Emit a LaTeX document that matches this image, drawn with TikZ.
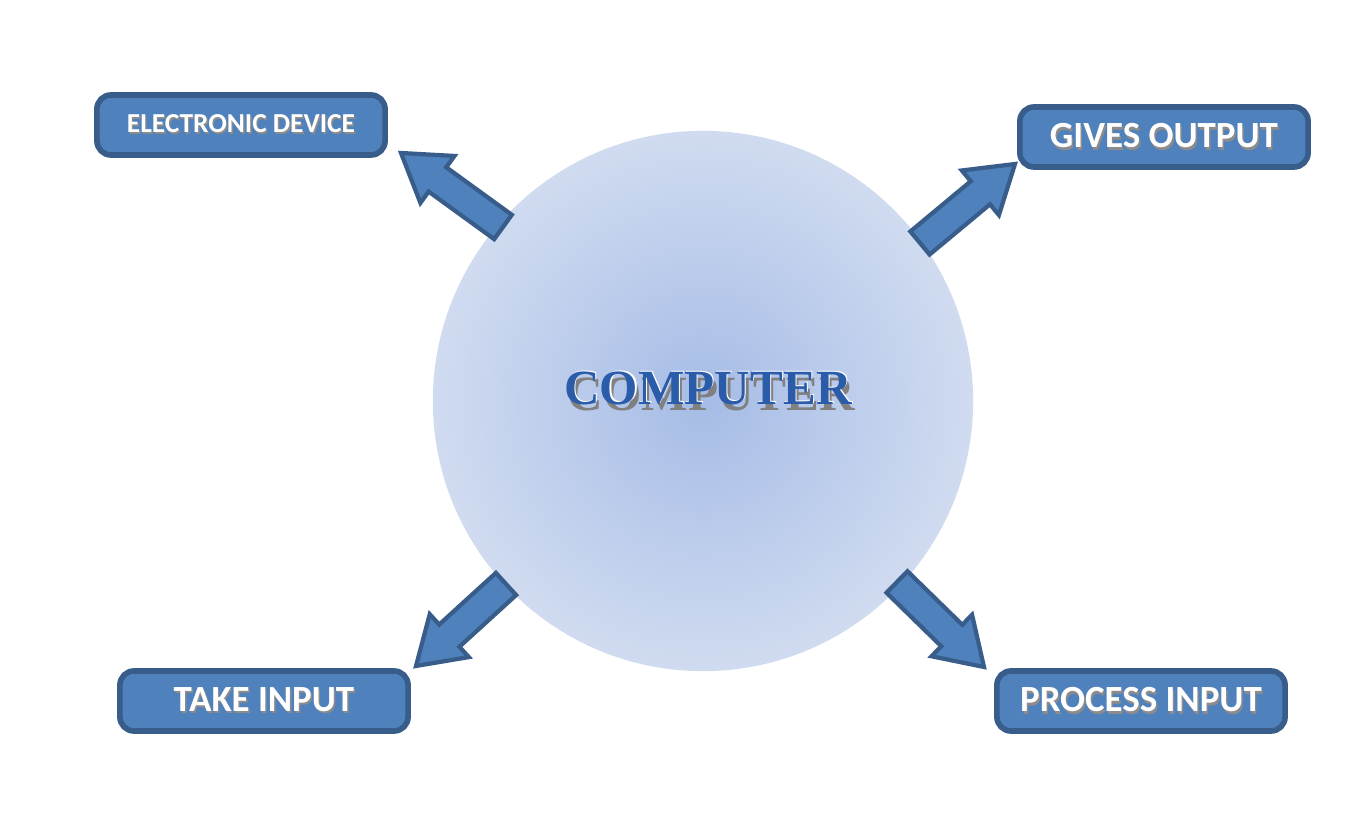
\documentclass[tikz,border=0pt]{standalone}
\usepackage{fontspec}
\setmainfont{Carlito}
\newfontfamily\serifx{Liberation Serif}
\usetikzlibrary{calc}
\definecolor{boxfill}{HTML}{4F81BD}
\definecolor{boxedge}{HTML}{385D8A}
\definecolor{ctext}{HTML}{2A5CAA}
\definecolor{cin}{HTML}{A6BCE6}
\definecolor{cout}{HTML}{D0DBF0}
\tikzset{
  lbl/.style={rounded corners=4pt,draw=boxedge,line width=1.6pt,fill=boxfill,minimum width=2.88cm,minimum height=0.6cm,inner sep=0pt},
  arr/.style={fill=boxfill,draw=boxedge,line width=1.2pt,line join=miter},
}
\newcommand\boxtext[2]{\makebox[0pt]{\raisebox{-0.6pt}{\hspace{0.8pt}\color{black!45}#2}}\makebox[0pt]{\color{white}#2}}
\newcommand\barrow[3]{%
  \coordinate (#1h) at ($(#3)!0.45cm!(#2)$);
  \draw[arr] ($(#2)!0.15cm!90:(#3)$) -- ($(#1h)!0.15cm!90:(#3)$) -- ($(#1h)!0.29cm!90:(#3)$) -- (#3)
   -- ($(#1h)!0.29cm!-90:(#3)$) -- ($(#1h)!0.15cm!-90:(#3)$) -- ($(#2)!0.15cm!-90:(#3)$) -- cycle;}
\begin{document}
\begin{tikzpicture}[x=0.01cm,y=-0.01cm]
\useasboundingbox (0,0) rectangle (1365,822);
\node[circle,minimum size=5.4cm,inner sep=0pt,inner color=cin,outer color=cout] (c) at (703,401) {};
\node (ct) at (708,391) {%
  \makebox[0pt]{\raisebox{-1.5pt}{\hspace{2pt}\serifx\bfseries\fontsize{14}{14}\selectfont\color{black!50}COMPUTER}}%
  \makebox[0pt]{\raisebox{0.3pt}{\hspace{0.6pt}\serifx\bfseries\fontsize{14}{14}\selectfont\color{white}COMPUTER}}%
  \makebox[0pt]{\serifx\bfseries\fontsize{14}{14}\selectfont\color{ctext}COMPUTER}};
\node[lbl] (ed) at (241,125) {\bfseries\fontsize{7.8}{9}\selectfont\boxtext{}{ELECTRONIC DEVICE}};
\node[lbl] (go) at (1164,137) {\bfseries\fontsize{10.5}{12}\selectfont\boxtext{}{GIVES OUTPUT}};
\node[lbl] (ti) at (264,701) {\bfseries\fontsize{10.5}{12}\selectfont\boxtext{}{TAKE INPUT}};
\node[lbl] (pi) at (1141,701) {\bfseries\fontsize{10.5}{12}\selectfont\boxtext{}{PROCESS INPUT}};
\coordinate (a1s) at (503,227); \coordinate (a1e) at (401,153);
\coordinate (a2s) at (920,243); \coordinate (a2e) at (1015,164);
\coordinate (a3s) at (506,584); \coordinate (a3e) at (416,666);
\coordinate (a4s) at (897,582); \coordinate (a4e) at (984,667);
\barrow{a1}{a1s}{a1e}
\barrow{a2}{a2s}{a2e}
\barrow{a3}{a3s}{a3e}
\barrow{a4}{a4s}{a4e}
\end{tikzpicture}
\end{document}
